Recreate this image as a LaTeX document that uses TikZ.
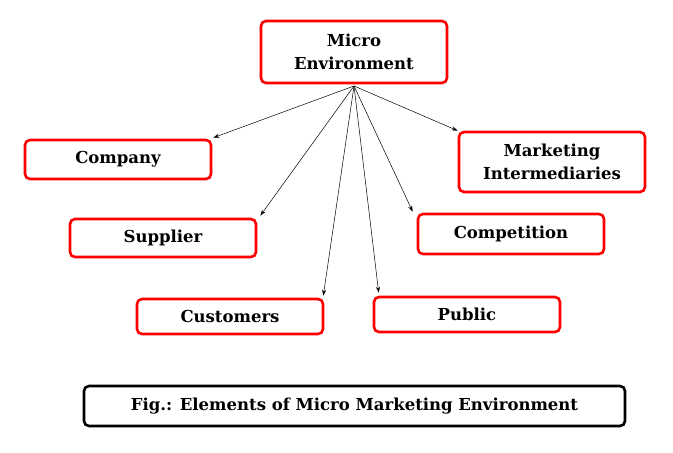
\documentclass[tikz,border=0pt]{standalone}
\usepackage{fontspec}
\setmainfont{DejaVu Serif}
\usetikzlibrary{arrows.meta}
\begin{document}
\begin{tikzpicture}[x=1pt,y=-1pt,
  rbox/.style={draw=red,line width=2.6pt,rounded corners=5pt,minimum width=186pt,align=center,font=\bfseries\fontsize{16.5}{23}\selectfont},
  fbox/.style={draw=black,line width=2.6pt,rounded corners=5pt,minimum width=541pt,minimum height=40pt,font=\bfseries\fontsize{16.5}{23}\selectfont},
  arr/.style={-{Stealth[length=6pt,width=4pt]},line width=0.5pt}]
\useasboundingbox[fill=white] (0,0) rectangle (673,453);
\node[rbox,minimum height=62pt] (me) at (354,52) {Micro\\Environment};
\node[rbox,minimum height=39pt] (co) at (118,159.5) {Company};
\node[rbox,minimum height=38pt] (su) at (163,238) {Supplier};
\node[rbox,minimum height=35pt] (cu) at (230,316.5) {Customers};
\node[rbox,minimum height=35pt] (pu) at (467,314.5) {Public};
\node[rbox,minimum height=40pt] (cp) at (511,234) {Competition};
\node[rbox,minimum height=60pt] (mi) at (552,162) {Marketing\\Intermediaries};
\node[fbox] (fig) at (354.5,406) {Fig.: Elements of Micro Marketing Environment};
\coordinate (o) at (354,86);
\draw[arr] (o) -- ([shift={(1,-1)}]co.north east);
\draw[arr] (o) -- ([shift={(3,-2)}]su.north east);
\draw[arr] (o) -- ([shift={(-1,-2)}]cu.north east);
\draw[arr] (o) -- ([shift={(6,-3)}]pu.north west);
\draw[arr] (o) -- ([shift={(-4,-1)}]cp.north west);
\draw[arr] (o) -- ([shift={(0,0)}]mi.north west);
\end{tikzpicture}
\end{document}
